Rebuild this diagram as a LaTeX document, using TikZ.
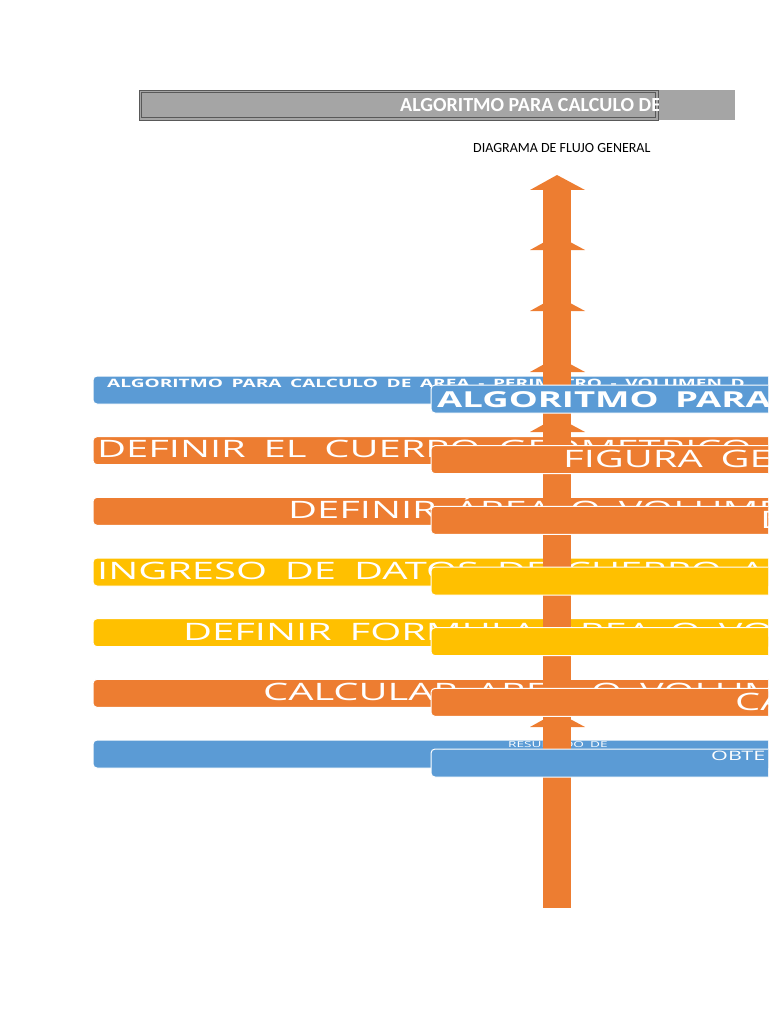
\documentclass[tikz,border=0pt]{standalone}
\usepackage{fontspec}
\usepackage{graphicx}
\setmainfont{Carlito}
\newfontfamily\artfont{Open Sans}
\usepackage{tikz}

\definecolor{artblue}{HTML}{5B9BD5}
\definecolor{artorange}{HTML}{ED7D31}
\definecolor{artyellow}{HTML}{FFC000}
\definecolor{titlegray}{HTML}{A5A5A5}

% stretched SmartArt text: [weight]{size}{text}
\newcommand{\wide}[3][]{\scalebox{1.66}[1]{\artfont#1\fontsize{#2}{#2}\selectfont\spaceskip=0.45em\relax #3}}

\tikzset{
  row/.style={draw=white, line width=1pt, rounded corners=4pt},
  txt/.style={anchor=base west, inner sep=0pt, text=white},
}

\begin{document}
\begin{tikzpicture}[x=1pt, y=-1pt]
            \useasboundingbox (0,0) rectangle (768,1024);
            \clip (0,0) rectangle (768,1024);
            % title bar
            \fill[titlegray] (139,90) rectangle (735,120);
            \draw[black!65, line width=0.8pt] (139,90) rectangle (658,120);
            \draw[black!65, line width=0.8pt] (141.5,92.5) rectangle (655.5,117.5);
            \begin{scope}
                    \clip (139,90) rectangle (658,120);
                    \node[txt, font=\bfseries\fontsize{20}{20}\selectfont] (title) at (400,111.5) {ALGORITMO PARA CALCULO DE};
            \end{scope}
            \node[anchor=base west, inner sep=0pt, font=\fontsize{14}{14}\selectfont] (subtitle) at (473,153) {DIAGRAMA DE FLUJO GENERAL};
            % left bars
            \foreach \c [count=\i from 0] in {artblue, artorange, artorange, artyellow, artyellow, artorange, artblue} {
                    \filldraw[row, fill=\c] (93, {376+60.67*\i}) rectangle (800, {404+60.67*\i});
            }
            \node[txt] (left1) at (107,387) {\wide[\bfseries]{11.5}{ALGORITMO PARA CALCULO DE AREA - PERIMETRO - VOLUMEN D}};
            \node[txt] (left2) at (97,457.5) {\wide{24}{DEFINIR EL CUERPO GEOMETRICO}};
            \node[txt] (left3) at (288,518) {\wide{24}{DEFINIR ÁREA O VOLUMEN}};
            \node[txt] (left4) at (97,579) {\wide{24}{INGRESO DE DATOS DE CUERPO A}};
            \node[txt] (left5) at (183,640) {\wide{24}{DEFINIR FORMULA AREA O VOLUMEN}};
            \node[txt] (left6) at (263,700) {\wide{24}{CALCULAR AREA O VOLUMEN}};
            \node[txt] (left7) at (508,747) {\wide{8.2}{RESULTADO DE}};
            % up arrow
            \fill[artorange] (543,190) rectangle (571,908);
            \foreach \b in {190, 250, 311, 372, 432, 727} {
                    \fill[artorange] (530,\b) -- (557,{\b-15}) -- (585,\b) -- cycle;
            }
            % right bars
            \foreach \c [count=\i from 0] in {artblue, artorange, artorange, artyellow, artyellow, artorange, artblue} {
                    \filldraw[row, fill=\c] (431, {385+60.67*\i}) rectangle (800, {413+60.67*\i});
            }
            \node[txt] (right1) at (437,407) {\wide[\bfseries]{22}{ALGORITMO PARA}};
            \node[txt] (right2) at (563,467) {\wide{24}{FIGURA GE}};
            \node[txt] (right3) at (760,528) {\wide{24}{D}};
            \node[txt] (right6) at (735,710) {\wide{24}{CA}};
            \node[txt] (right7) at (711,760) {\wide{13}{OBTE}};
    \end{tikzpicture}
\end{document}
